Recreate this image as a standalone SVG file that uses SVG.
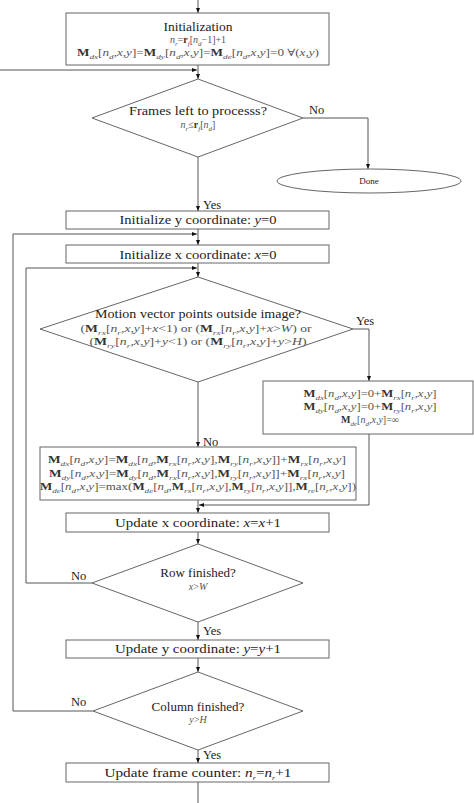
<svg xmlns="http://www.w3.org/2000/svg" width="474" height="803" viewBox="0 0 474 803">
<style>
text{font-family:"Liberation Serif","Times New Roman","DejaVu Serif",serif;fill:#222}
.t{font-size:13px;text-anchor:middle}
.l{font-size:12.5px}
.m{font-size:10px;font-style:italic;fill:#555;text-anchor:middle}
.b{font-weight:bold;font-style:normal;fill:#333}
.u{font-style:normal}
.s{font-size:7px;baseline-shift:-2.5px}
.box{fill:#fff;stroke:#666;stroke-width:1}
.c path{fill:none;stroke:#555;stroke-width:1}
</style>
<defs>
<marker id="a" viewBox="0 0 10 10" refX="10" refY="5" markerWidth="5" markerHeight="5" orient="auto" markerUnits="userSpaceOnUse"><path d="M0,1 L10,5 L0,9 z" fill="#111"/></marker>
</defs>
<g class="c">
<path d="M198,0 V13" marker-end="url(#a)"/>
<path d="M0,70 H197" marker-end="url(#a)"/>
<path d="M198,65 V79" marker-end="url(#a)"/>
<path d="M303,118 H368 V169" marker-end="url(#a)"/>
<path d="M198,157 V211" marker-end="url(#a)"/>
<path d="M198,229 V245" marker-end="url(#a)"/>
<path d="M93,711 H13 V234 H197" marker-end="url(#a)"/>
<path d="M198,263 V277" marker-end="url(#a)"/>
<path d="M92,583 H26 V268 H197" marker-end="url(#a)"/>
<path d="M353,329 H369 V381" marker-end="url(#a)"/>
<path d="M198,382 V447" marker-end="url(#a)"/>
<path d="M369,434 V505 H199" marker-end="url(#a)"/>
<path d="M198,500 V513" marker-end="url(#a)"/>
<path d="M198,532 V544" marker-end="url(#a)"/>
<path d="M198,622 V640" marker-end="url(#a)"/>
<path d="M198,658 V672" marker-end="url(#a)"/>
<path d="M198,750 V763" marker-end="url(#a)"/>
<path d="M198,782 V803"/>
</g>
<g id="init">
<rect class="box" x="66" y="13" width="263" height="52"/>
<text class="t" x="198" y="31" style="font-size:13.5px">Initialization</text>
<text class="m" x="198" y="43"><tspan>n</tspan><tspan class="s">r</tspan><tspan class="u">=</tspan><tspan class="b">r</tspan><tspan class="s">f</tspan><tspan class="u">[</tspan>n<tspan class="s">d</tspan><tspan class="u">−1]+1</tspan></text>
<text class="m" x="198" y="56" textLength="242" lengthAdjust="spacingAndGlyphs"><tspan class="b">M</tspan><tspan class="s">dx</tspan><tspan class="u">[</tspan>n<tspan class="s">d</tspan>,x,y<tspan class="u">]=</tspan><tspan class="b">M</tspan><tspan class="s">dy</tspan><tspan class="u">[</tspan>n<tspan class="s">d</tspan>,x,y<tspan class="u">]=</tspan><tspan class="b">M</tspan><tspan class="s">de</tspan><tspan class="u">[</tspan>n<tspan class="s">d</tspan>,x,y<tspan class="u">]=0 ∀(</tspan>x,y<tspan class="u">)</tspan></text>
</g>
<g id="frames">
<polygon class="box" points="198,79 303,118 198,157 92,118"/>
<text class="t" x="198" y="115" textLength="138" lengthAdjust="spacingAndGlyphs">Frames left to processs?</text>
<text class="m" x="198" y="128">n<tspan class="s">r</tspan><tspan class="u">≤</tspan><tspan class="b">r</tspan><tspan class="s">f</tspan><tspan class="u">[</tspan>n<tspan class="s">d</tspan><tspan class="u">]</tspan></text>
</g>
<g id="done">
<ellipse class="box" cx="369" cy="181" rx="92" ry="12"/>
<text class="t" x="369" y="184" style="font-size:9px">Done</text>
</g>
<g id="inity">
<rect class="box" x="66" y="211" width="263" height="18"/>
<text class="t" x="198" y="224" textLength="157" lengthAdjust="spacingAndGlyphs">Initialize y coordinate: <tspan font-style="italic">y</tspan>=0</text>
</g>
<g id="initx">
<rect class="box" x="66" y="245" width="263" height="18"/>
<text class="t" x="198" y="259" textLength="157" lengthAdjust="spacingAndGlyphs">Initialize x coordinate: <tspan font-style="italic">x</tspan>=0</text>
</g>
<g id="motion">
<polygon class="box" points="198,277 353,329 198,382 40,329"/>
<text class="t" x="198" y="318" textLength="206" lengthAdjust="spacingAndGlyphs">Motion vector points outside image?</text>
<text class="m" x="196" y="332" textLength="231" lengthAdjust="spacingAndGlyphs"><tspan class="u">(</tspan><tspan class="b">M</tspan><tspan class="s">rx</tspan><tspan class="u">[</tspan>n<tspan class="s">r</tspan>,x,y<tspan class="u">]+</tspan>x<tspan class="u">&lt;1) or (</tspan><tspan class="b">M</tspan><tspan class="s">rx</tspan><tspan class="u">[</tspan>n<tspan class="s">r</tspan>,x,y<tspan class="u">]+</tspan>x<tspan class="u">&gt;</tspan>W<tspan class="u">) or</tspan></text>
<text class="m" x="198" y="345" textLength="217" lengthAdjust="spacingAndGlyphs"><tspan class="u">(</tspan><tspan class="b">M</tspan><tspan class="s">ry</tspan><tspan class="u">[</tspan>n<tspan class="s">r</tspan>,x,y<tspan class="u">]+</tspan>y<tspan class="u">&lt;1) or (</tspan><tspan class="b">M</tspan><tspan class="s">ry</tspan><tspan class="u">[</tspan>n<tspan class="s">r</tspan>,x,y<tspan class="u">]+</tspan>y<tspan class="u">&gt;</tspan>H<tspan class="u">)</tspan></text>
</g>
<g id="outside">
<rect class="box" x="263" y="381" width="210" height="53"/>
<text class="m" x="370" y="397" textLength="133" lengthAdjust="spacingAndGlyphs"><tspan class="b">M</tspan><tspan class="s">dx</tspan><tspan class="u">[</tspan>n<tspan class="s">d</tspan>,x,y<tspan class="u">]=0+</tspan><tspan class="b">M</tspan><tspan class="s">rx</tspan><tspan class="u">[</tspan>n<tspan class="s">r</tspan>,x,y<tspan class="u">]</tspan></text>
<text class="m" x="370" y="410" textLength="133" lengthAdjust="spacingAndGlyphs"><tspan class="b">M</tspan><tspan class="s">dy</tspan><tspan class="u">[</tspan>n<tspan class="s">d</tspan>,x,y<tspan class="u">]=0+</tspan><tspan class="b">M</tspan><tspan class="s">ry</tspan><tspan class="u">[</tspan>n<tspan class="s">r</tspan>,x,y<tspan class="u">]</tspan></text>
<text class="m" x="370" y="423"><tspan class="b">M</tspan><tspan class="s">de</tspan><tspan class="u">[</tspan>n<tspan class="s">d</tspan>,x,y<tspan class="u">]=∞</tspan></text>
</g>
<g id="update">
<rect class="box" x="40" y="447" width="316" height="53"/>
<text class="m" x="197" y="463" textLength="298" lengthAdjust="spacingAndGlyphs"><tspan class="b">M</tspan><tspan class="s">dx</tspan><tspan class="u">[</tspan>n<tspan class="s">d</tspan>,x,y<tspan class="u">]=</tspan><tspan class="b">M</tspan><tspan class="s">dx</tspan><tspan class="u">[</tspan>n<tspan class="s">d</tspan>,<tspan class="b">M</tspan><tspan class="s">rx</tspan><tspan class="u">[</tspan>n<tspan class="s">r</tspan>,x,y<tspan class="u">],</tspan><tspan class="b">M</tspan><tspan class="s">ry</tspan><tspan class="u">[</tspan>n<tspan class="s">r</tspan>,x,y<tspan class="u">]]+</tspan><tspan class="b">M</tspan><tspan class="s">rx</tspan><tspan class="u">[</tspan>n<tspan class="s">r</tspan>,x,y<tspan class="u">]</tspan></text>
<text class="m" x="197" y="477" textLength="296" lengthAdjust="spacingAndGlyphs"><tspan class="b">M</tspan><tspan class="s">dy</tspan><tspan class="u">[</tspan>n<tspan class="s">d</tspan>,x,y<tspan class="u">]=</tspan><tspan class="b">M</tspan><tspan class="s">dy</tspan><tspan class="u">[</tspan>n<tspan class="s">d</tspan>,<tspan class="b">M</tspan><tspan class="s">rx</tspan><tspan class="u">[</tspan>n<tspan class="s">r</tspan>,x,y<tspan class="u">],</tspan><tspan class="b">M</tspan><tspan class="s">ry</tspan><tspan class="u">[</tspan>n<tspan class="s">r</tspan>,x,y<tspan class="u">]]+</tspan><tspan class="b">M</tspan><tspan class="s">rx</tspan><tspan class="u">[</tspan>n<tspan class="s">r</tspan>,x,y<tspan class="u">]</tspan></text>
<text class="m" x="198" y="490" textLength="316" lengthAdjust="spacingAndGlyphs"><tspan class="b">M</tspan><tspan class="s">de</tspan><tspan class="u">[</tspan>n<tspan class="s">d</tspan>,x,y<tspan class="u">]=max(</tspan><tspan class="b">M</tspan><tspan class="s">de</tspan><tspan class="u">[</tspan>n<tspan class="s">d</tspan>,<tspan class="b">M</tspan><tspan class="s">rx</tspan><tspan class="u">[</tspan>n<tspan class="s">r</tspan>,x,y<tspan class="u">],</tspan><tspan class="b">M</tspan><tspan class="s">ry</tspan><tspan class="u">[</tspan>n<tspan class="s">r</tspan>,x,y<tspan class="u">]],</tspan><tspan class="b">M</tspan><tspan class="s">re</tspan><tspan class="u">[</tspan>n<tspan class="s">r</tspan>,x,y<tspan class="u">])</tspan></text>
</g>
<g id="updx">
<rect class="box" x="66" y="513" width="263" height="19"/>
<text class="t" x="198" y="527" textLength="166" lengthAdjust="spacingAndGlyphs">Update x coordinate: <tspan font-style="italic">x</tspan>=<tspan font-style="italic">x</tspan>+1</text>
</g>
<g id="row">
<polygon class="box" points="198,544 303,583 198,622 92,583"/>
<text class="t" x="198" y="577">Row finished?</text>
<text class="m" x="198" y="590"><tspan>x</tspan><tspan class="u">&gt;</tspan>W</text>
</g>
<g id="updy">
<rect class="box" x="66" y="640" width="263" height="18"/>
<text class="t" x="198" y="653" textLength="166" lengthAdjust="spacingAndGlyphs">Update y coordinate: <tspan font-style="italic">y</tspan>=<tspan font-style="italic">y</tspan>+1</text>
</g>
<g id="col">
<polygon class="box" points="198,672 303,711 198,750 93,711"/>
<text class="t" x="198" y="711">Column finished?</text>
<text class="m" x="198" y="723"><tspan>y</tspan><tspan class="u">&gt;</tspan>H</text>
</g>
<g id="updf">
<rect class="box" x="66" y="763" width="263" height="19"/>
<text class="t" x="198" y="777" textLength="187" lengthAdjust="spacingAndGlyphs">Update frame counter: <tspan font-style="italic">n</tspan><tspan font-style="italic" class="s">r</tspan>=<tspan font-style="italic">n</tspan><tspan font-style="italic" class="s">r</tspan>+1</text>
</g>
<g id="labels" class="l">
<text x="309" y="114">No</text>
<text x="203" y="209">Yes</text>
<text x="356" y="325">Yes</text>
<text x="203" y="446">No</text>
<text x="71" y="580">No</text>
<text x="203" y="635">Yes</text>
<text x="71" y="706">No</text>
<text x="203" y="759">Yes</text>
</g>
</svg>
